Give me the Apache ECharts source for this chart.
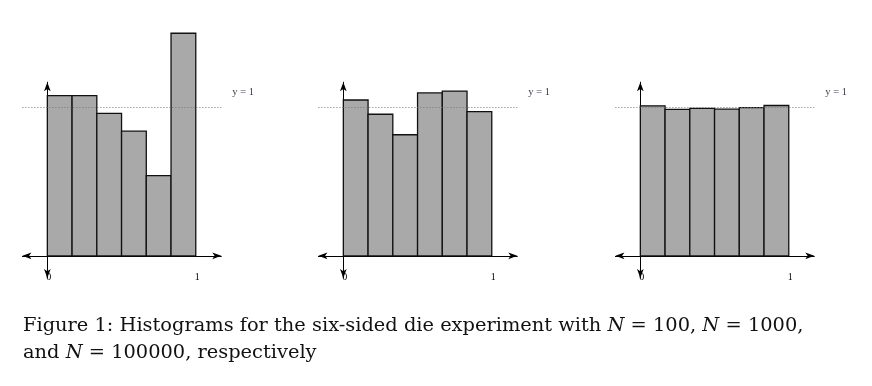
<!DOCTYPE html>
<html>
<head>
<meta charset="utf-8">
<script src="https://cdn.jsdelivr.net/npm/echarts@6/dist/echarts.min.js"></script>
<style>
html,body{margin:0;padding:0;background:#fff;}
#c{width:872px;height:386px;}
</style>
</head>
<body>
<div id="c"></div>
<script>
// Data: relative frequency x 6 for each die face (density over [0,1] bins)
const faces = [1, 2, 3, 4, 5, 6];
const density100 = [1.08, 1.08, 0.96, 0.84, 0.54, 1.50];
const density1000 = [1.05, 0.954, 0.816, 1.098, 1.11, 0.972];
const density100000 = [1.011, 0.987, 0.993, 0.988, 0.999, 1.013];
const xTickLabels = [0, 1];
const refLineValue = 1;
const refLineLabel = 'y = 1';

const serif = '"Liberation Serif", "DejaVu Serif", serif';
const capSerif = '"DejaVu Serif", "Liberation Serif", serif';

function binData(vals) {
  const n = faces.length;
  return vals.map((v, i) => [i / n, (i + 1) / n, v]);
}

const panels = [density100, density1000, density100000];
const gridLefts = [22.4, 318.4, 615.4];
const W = 198.9, H = 195.9, TOP = 82.2;

const grids = [], xAxes = [], yAxes = [], series = [];
panels.forEach((vals, k) => {
  grids.push({left: gridLefts[k], top: TOP, width: W, height: H, containLabel: false});
  xAxes.push({
    type: 'value', gridIndex: k, min: -0.168, max: 1.172,
    splitLine: {show: false},
    axisTick: {show: false},
    axisLine: {show: true, onZero: true, symbol: ['arrow', 'arrow'], symbolSize: [5, 9],
      lineStyle: {color: '#000', width: 1}},
    axisLabel: {show: true, customValues: xTickLabels, margin: -6, fontSize: 10,
      fontFamily: serif, color: '#000', padding: [0, 0, 0, 3], formatter: v => String(v)}
  });
  yAxes.push({
    type: 'value', gridIndex: k, min: -0.15, max: 1.17,
    splitLine: {show: false},
    axisTick: {show: false},
    axisLabel: {show: false},
    axisLine: {show: true, onZero: true, symbol: ['arrow', 'arrow'], symbolSize: [5, 9],
      lineStyle: {color: '#000', width: 1}}
  });
  series.push({
    type: 'custom', xAxisIndex: k, yAxisIndex: k, clip: false, z: 1,
    data: binData(vals),
    renderItem: function (params, api) {
      const p0 = api.coord([api.value(0), 0]);
      const p1 = api.coord([api.value(1), api.value(2)]);
      return {
        type: 'rect',
        shape: {x: p0[0], y: p1[1], width: p1[0] - p0[0], height: p0[1] - p1[1]},
        style: {fill: '#a9a9a9', stroke: '#111', lineWidth: 1.3}
      };
    },
    markLine: {
      silent: true, symbol: 'none', z: 5,
      lineStyle: {type: [1, 2], color: '#777', width: 1},
      label: {show: true, position: 'end', distance: 11,
        formatter: '{t|' + refLineLabel + '}\n{t| }\n{t| }',
        rich: {t: {fontSize: 10.5, fontFamily: serif, color: '#3c4150', lineHeight: 15}}},
      data: [{yAxis: refLineValue}]
    }
  });
});

const chart = echarts.init(document.getElementById('c'), null, {renderer: 'canvas'});
chart.setOption({
  animation: false,
  backgroundColor: '#fff',
  title: {
    left: 18, top: 307,
    text: '{a|Figure 1: Histograms for the six-sided die experiment with }{i|N}{a| = 100, }{i|N}{a| = 1000,}\n{a|and }{i|N}{a| = 100000, respectively}',
    textStyle: {
      fontWeight: 'normal',
      rich: {
        a: {fontFamily: capSerif, fontSize: 19.4, fontWeight: 'normal', color: '#111', lineHeight: 27},
        i: {fontFamily: capSerif, fontSize: 19.4, fontWeight: 'normal', fontStyle: 'italic', color: '#111', lineHeight: 27}
      }
    }
  },
  grid: grids,
  xAxis: xAxes,
  yAxis: yAxes,
  series: series
});
</script>
</body>
</html>
